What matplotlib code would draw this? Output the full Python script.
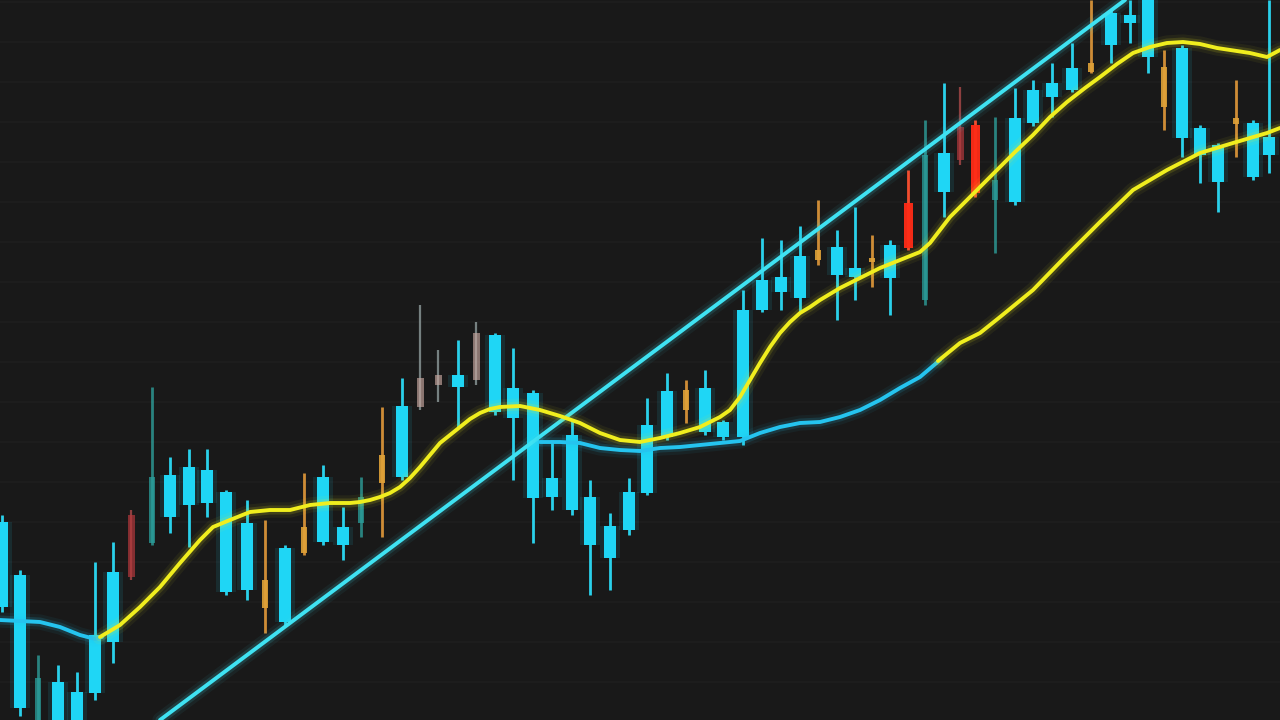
import matplotlib
matplotlib.use("Agg")
import matplotlib.pyplot as plt

# ---- candle data (positions along the chart, levels measured from the top edge) ----
cx = [2, 20, 38, 58, 77, 95, 113, 131, 152, 170, 189, 207, 226, 247, 265, 285, 304, 323, 343, 361,
      382, 402, 420, 438, 458, 476, 495, 513, 533, 552, 572, 590, 610, 629, 647, 667, 686, 705, 723, 743,
      762, 781, 800, 818, 837, 855, 872, 890, 908, 925, 944, 960, 975, 995, 1015, 1033, 1052, 1072, 1091, 1111,
      1130, 1148, 1164, 1182, 1200, 1218, 1236, 1253, 1269]
wick_top = [515, 570, 655, 665, 672, 562, 542, 510, 387, 457, 449, 449, 490, 500, 520, 545, 473, 465, 507, 477,
            407, 378, 305, 350, 340, 322, 333, 348, 390, 440, 420, 480, 513, 478, 398, 373, 380, 370, 420, 290,
            238, 240, 226, 200, 230, 207, 235, 240, 170, 120, 83, 87, 120, 117, 88, 80, 63, 43, 0, 10,
            0, -5, 50, 45, 125, 143, 80, 120, 0]
body_top = [522, 575, 678, 682, 692, 635, 572, 515, 477, 475, 467, 470, 492, 523, 580, 548, 527, 477, 527, 497,
            455, 406, 378, 375, 375, 333, 335, 388, 393, 478, 435, 497, 526, 492, 425, 391, 390, 388, 422, 310,
            280, 277, 256, 250, 247, 268, 258, 245, 203, 155, 153, 127, 125, 180, 118, 90, 83, 68, 63, 13,
            15, -5, 67, 48, 128, 145, 118, 123, 137]
body_bot = [607, 708, 722, 725, 725, 693, 642, 577, 543, 517, 505, 503, 592, 590, 608, 622, 553, 542, 545, 523,
            483, 477, 407, 385, 387, 380, 412, 418, 498, 497, 510, 545, 558, 530, 493, 437, 410, 432, 437, 437,
            310, 292, 298, 260, 275, 277, 262, 278, 248, 300, 192, 160, 193, 200, 202, 123, 97, 90, 72, 45,
            23, 57, 107, 138, 155, 182, 124, 177, 155]
wick_bot = [612, 716, 722, 725, 725, 700, 663, 580, 545, 533, 547, 517, 595, 600, 633, 625, 555, 545, 560, 537,
            537, 480, 410, 402, 427, 385, 415, 480, 543, 510, 515, 595, 590, 535, 495, 440, 423, 435, 440, 445,
            312, 310, 313, 265, 320, 300, 287, 315, 250, 305, 217, 165, 197, 253, 205, 126, 117, 92, 73, 63,
            43, 73, 130, 157, 183, 212, 157, 180, 173]
kind = ['c', 'c', 't', 'c', 'c', 'c', 'c', 'dr', 't', 'c', 'c', 'c', 'c', 'c', 'o', 'c', 'o', 'c', 'c', 't',
        'o', 'c', 'w', 'w', 'c', 'w', 'c', 'c', 'c', 'c', 'c', 'c', 'c', 'c', 'c', 'c', 'o', 'c', 'c', 'c',
        'c', 'c', 'c', 'o', 'c', 'c', 'o', 'c', 'r', 't', 'c', 'dr', 'r', 't', 'c', 'c', 'c', 'c', 'o', 'c',
        'c', 'c', 'o', 'c', 'c', 'c', 'o', 'c', 'c']

# ---- trend line ----
trend_x = [160, 1125]
trend_y = [720, 0]

# ---- fast moving average (cyan part, then yellow part) ----
ma1_cyan_x = [0, 20, 40, 60, 80, 95, 102]
ma1_cyan_y = [620, 621, 622, 627, 635, 639, 637]
ma1_yel_x = [100, 120, 140, 160, 180, 200, 213, 230, 250, 270, 290, 310, 330, 350, 360, 370, 380, 390, 400,
             410, 420, 430, 440, 450, 460, 470, 480, 490, 500, 520, 540, 560, 580, 600, 620, 640, 660, 680,
             700, 720, 730, 740, 750, 760, 770, 780, 790, 800, 810, 820, 840, 860, 880, 900, 920, 930, 940,
             950, 960, 970, 980, 990, 1000, 1015, 1033, 1050, 1067, 1085, 1100, 1117, 1133, 1150, 1167,
             1183, 1200, 1217, 1250, 1267, 1280]
ma1_yel_y = [637, 625, 607, 587, 563, 540, 527, 520, 512, 510, 510, 505, 503, 503, 502, 500, 497, 493, 487,
             478, 467, 455, 443, 435, 427, 419, 413, 409, 407, 406, 410, 416, 423, 433, 440, 442, 438, 433,
             427, 417, 410, 397, 380, 363, 347, 333, 322, 313, 307, 300, 288, 278, 268, 260, 252, 243, 230,
             217, 207, 197, 187, 177, 167, 152, 135, 117, 102, 88, 77, 64, 53, 47, 43,
             42, 44, 48, 53, 57, 50]

# ---- slow moving average (cyan part, then yellow part) ----
ma2_cyan_x = [540, 560, 580, 600, 620, 640, 660, 680, 700, 720, 740, 760, 780, 800, 820, 840, 860, 880,
              900, 920, 940]
ma2_cyan_y = [442, 442, 443, 448, 450, 451, 448, 447, 445, 443, 441, 433, 427, 423, 422, 417, 410, 400,
              388, 377, 360]
ma2_yel_x = [938, 960, 980, 1000, 1033, 1067, 1100, 1133, 1167, 1200, 1233, 1267, 1280]
ma2_yel_y = [361, 343, 333, 317, 290, 255, 222, 190, 170, 153, 143, 133, 128]

grid_levels = [2, 42, 82, 122, 162, 202, 242, 282, 322, 362, 402, 442, 482, 522, 562, 602, 642, 682]

BG = '#191919'
YELLOW = '#f0ee1e'
styles = {
    'c':  dict(body='#1fd6f5', wick='#2ad0ea', alpha=1.0, width=12, wlw=2.0, glow=True),
    't':  dict(body='#2a9f9c', wick='#2fa7a2', alpha=0.75, width=6, wlw=2.0, glow=False),
    'o':  dict(body='#e0a238', wick='#e39a3a', alpha=0.9, width=6, wlw=2.0, glow=False),
    'r':  dict(body='#ff2c16', wick='#ff5030', alpha=0.95, width=9, wlw=2.0, glow=False),
    'dr': dict(body='#b2383c', wick='#c05050', alpha=0.7, width=7, wlw=1.6, glow=False),
    'w':  dict(body='#c8a8a0', wick='#a8b8b8', alpha=0.65, width=7, wlw=1.6, glow=False),
}

fig = plt.figure(figsize=(12.8, 7.2), dpi=100, facecolor=BG)
ax = fig.add_axes([0, 0, 1, 1])
ax.set_facecolor(BG)
ax.set_xlim(0, 1280)
ax.set_ylim(720, 0)
for s in ax.spines.values():
    s.set_visible(False)
ax.set_xticks([])
ax.set_yticks(grid_levels)
ax.tick_params(left=False, labelleft=False)
ax.yaxis.grid(True, color='#1f1f1f', lw=1.2)
ax.set_axisbelow(True)

# candles
for x, wt, bt, bb, wb, k in zip(cx, wick_top, body_top, body_bot, wick_bot, kind):
    st = styles[k]
    if st['glow']:
        ax.bar(x, bb - bt, bottom=bt, width=st['width'] + 8, color=st['body'], alpha=0.10, lw=0, zorder=2)
    ax.vlines(x, wt, wb, color=st['wick'], lw=st['wlw'], alpha=st['alpha'], zorder=3)
    ax.bar(x, bb - bt, bottom=bt, width=st['width'], color=st['body'], alpha=st['alpha'], lw=0, zorder=3)


def glow_line(xs, ys, color, z):
    ax.plot(xs, ys, color=color, lw=11, alpha=0.06, solid_capstyle='round', solid_joinstyle='round', zorder=z)
    ax.plot(xs, ys, color=color, lw=6.5, alpha=0.14, solid_capstyle='round', solid_joinstyle='round', zorder=z)
    ax.plot(xs, ys, color=color, lw=2.8, alpha=1.0, solid_capstyle='round', solid_joinstyle='round', zorder=z)


glow_line(trend_x, trend_y, '#3fe2f2', 5)
glow_line(ma1_cyan_x, ma1_cyan_y, '#25c4ef', 6)
glow_line(ma1_yel_x, ma1_yel_y, YELLOW, 6)
glow_line(ma2_cyan_x, ma2_cyan_y, '#25c4ef', 6)
glow_line(ma2_yel_x, ma2_yel_y, YELLOW, 6)

fig.savefig('out.png', dpi=100, facecolor=BG)
